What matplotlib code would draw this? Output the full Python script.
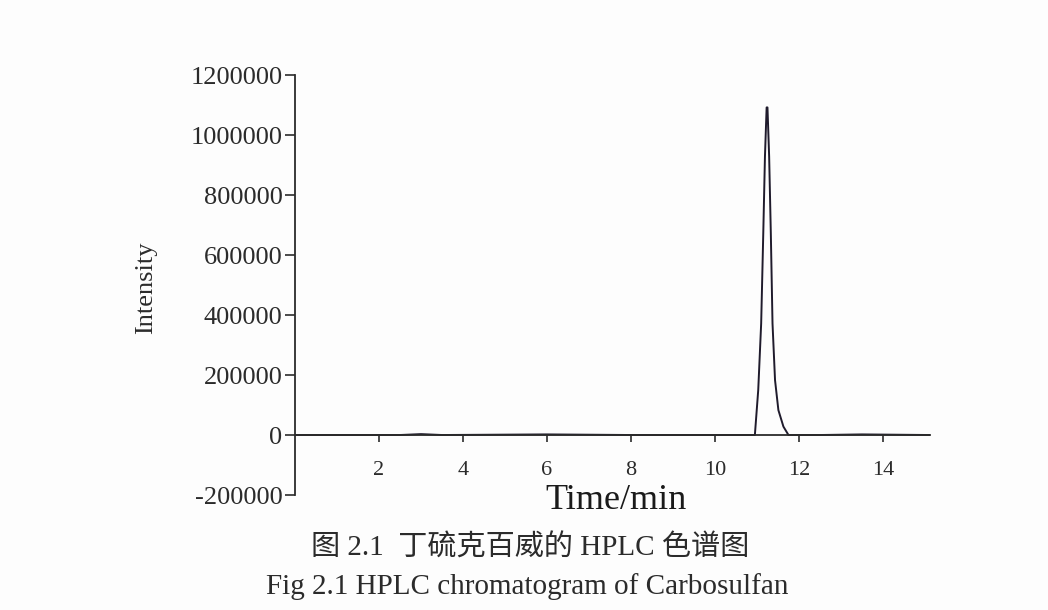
"""HPLC chromatogram of Carbosulfan (Fig 2.1)."""

import matplotlib

matplotlib.use("Agg")
import matplotlib.pyplot as plt

# retention time (min) and detector intensity
time_min = [0.0, 2.5, 3.0, 3.5, 6.0, 8.0, 10.0, 10.95, 11.03, 11.10, 11.15,
            11.19, 11.23, 11.25, 11.29, 11.33, 11.37, 11.43, 11.51, 11.63,
            11.75, 12.5, 13.5, 15.1]
intensity = [0, 0, 3000, 0, 2000, 0, 0, 0, 150000, 372000, 672000,
             928000, 1092000, 1092000, 928000, 672000, 372000, 183000,
             83000, 28000, 0, 0, 2000, 0]

x_ticks = [2, 4, 6, 8, 10, 12, 14]
y_ticks = [-200000, 0, 200000, 400000, 600000, 800000, 1000000, 1200000]

ink = "#2b2b2b"
serif = ["Liberation Serif", "DejaVu Serif"]
cjk = ["Liberation Serif", "Noto Sans CJK SC"]

fig = plt.figure(figsize=(10.48, 6.10), dpi=100)
fig.patch.set_facecolor("#fdfdfd")
ax = fig.add_axes([0.2815, 0.1885, 0.6059, 0.6885])
ax.set_facecolor("#fdfdfd")

ax.plot(time_min, intensity, color="#1f1b2c", linewidth=1.4)

ax.set_xlim(0, 15.12)
ax.set_ylim(-200000, 1200000)
ax.spines["top"].set_visible(False)
ax.spines["right"].set_visible(False)
ax.spines["bottom"].set_position(("data", 0))
for s in ("left", "bottom"):
    ax.spines[s].set_color(ink)
    ax.spines[s].set_linewidth(1.3)

ax.set_xticks(x_ticks)
ax.set_yticks(y_ticks)
ax.set_yticklabels([str(v) for v in y_ticks], family=serif, fontsize=19, color=ink)
ax.set_xticklabels([str(v) for v in x_ticks], family=serif, fontsize=16, color=ink)
ax.tick_params(axis="y", direction="out", length=7, width=1.2, color=ink, pad=2)
ax.tick_params(axis="x", direction="out", length=5, width=1.2, color=ink, pad=14)

fig.text(0.139, 0.528, "Intensity", rotation=90, ha="center", va="center",
         family=serif, fontsize=19, color=ink)
fig.text(0.588, 0.180, "Time/min", ha="center", va="center",
         family=serif, fontsize=26, color="#1a1a1a")

fig.text(0.506, 0.102, "图 2.1  丁硫克百威的 HPLC 色谱图", ha="center", va="center",
         family=cjk, fontsize=21, color=ink)
fig.text(0.503, 0.038, "Fig 2.1 HPLC chromatogram of Carbosulfan", ha="center",
         va="center", family=serif, fontsize=21, color=ink)

fig.savefig("out.png", dpi=100, facecolor=fig.get_facecolor())
plt.close(fig)
